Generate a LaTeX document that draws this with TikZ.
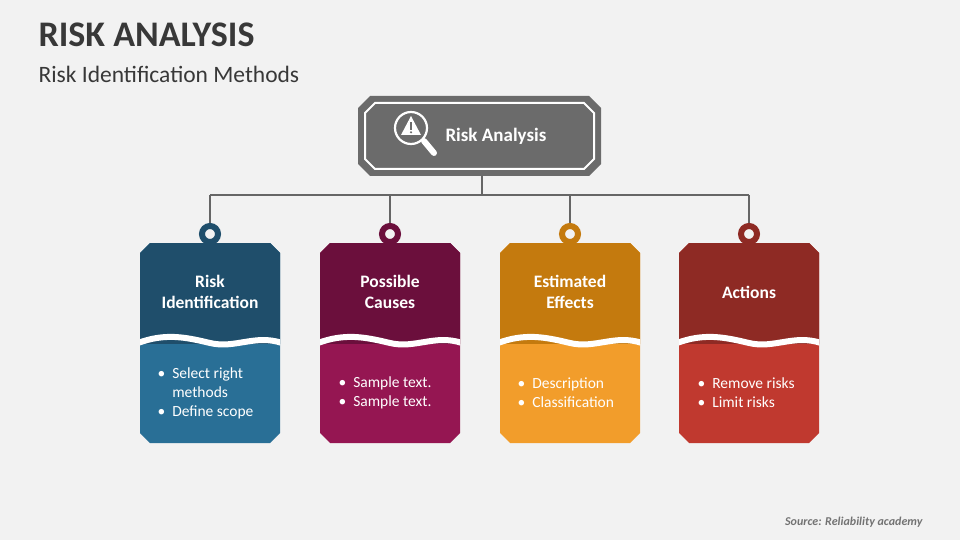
\documentclass[tikz,border=0pt]{standalone}
\usepackage{fontspec}
\setmainfont{Carlito}
\begin{document}
\begin{tikzpicture}[x=1pt,y=-1pt,
 ttl/.style={text=white,font=\bfseries\fontsize{17.5}{21}\selectfont,align=center},
 bul/.style={text=white,font=\fontsize{15.5}{19}\selectfont,align=left,anchor=west},
 conn/.style={draw=black!60,line width=2.2pt}]
\fill[black!5] (0,0) rectangle (960,540);
\useasboundingbox (0,0) rectangle (960,540);
\node[anchor=west,text=black!78,font=\bfseries\fontsize{36}{40}\selectfont] (title) at (35,35) {RISK ANALYSIS};
\node[anchor=west,text=black!78,font=\fontsize{23.5}{27}\selectfont] (sub) at (35,74) {Risk Identification Methods};
\node[anchor=east,text=black!55,font=\bfseries\itshape\fontsize{12}{14}\selectfont] (src) at (926,522) {Source: Reliability academy};
% top box
\fill[black!58] (370,96)--(589,96)--(601,108)--(601,164)--(589,176)--(370,176)--(358,164)--(358,108)--cycle;
\draw[white,line width=2pt] (375,103)--(584,103)--(594,113)--(594,159)--(584,169)--(375,169)--(365,159)--(365,113)--cycle;
\node[text=white,font=\bfseries\fontsize{19}{22}\selectfont,anchor=west] (top) at (442,136) {Risk Analysis};
\coordinate (tb) at (482,176);
% icon
\draw[white,line width=2.2pt] (411,128) circle (16);
\draw[white,line width=6pt,line cap=round] (424,141)--(434,153);
\fill[white] (411,116)--(421,135)--(401,135)--cycle;
\fill[black!58] (410,122) rectangle (412,130);
\fill[black!58] (411,132.3) circle (1.2);
\coordinate (hl) at (210,195);
\coordinate (hr) at (749,195);
\draw[conn] (tb)--(482,195);
\draw[conn] (hl)--(hr);
\foreach \cx/\up/\lo/\name in {210/1f4e6b/296f96/a,390/6b0f3c/951652/b,570/c47a0e/f29d2b/c,749/8e2a24/c0392f/d}{
 \definecolor{U}{HTML}{\up}\definecolor{L}{HTML}{\lo}
 \draw[conn] (\cx,195)--(\cx,226);
 \draw[U,line width=6pt] (\cx,234) circle (8);
 \path[fill=L] (\cx-60,243)--(\cx+60,243)--(\cx+70,253)--(\cx+70,433)--(\cx+60,443)--(\cx-60,443)--(\cx-70,433)--(\cx-70,253)--cycle;
 \begin{scope}
 \clip (\cx-60,243)--(\cx+60,243)--(\cx+70,253)--(\cx+70,433)--(\cx+60,443)--(\cx-60,443)--(\cx-70,433)--(\cx-70,253)--cycle;
 \fill[U] (\cx-75,230) rectangle (\cx+75,344);
 \draw[white,line width=6pt] (\cx-72,343) .. controls (\cx-45,333) and (\cx-25,337) .. (\cx,343) .. controls (\cx+25,349) and (\cx+45,334) .. (\cx+72,343);
 \end{scope}
}
\node[ttl] (ta) at (210,292) {Risk\\Identification};
\node[ttl] (tbx) at (390,292) {Possible\\Causes};
\node[ttl] (tc) at (570,292) {Estimated\\Effects};
\node[ttl] (td) at (749,292) {Actions};
\node[bul] (ba) at (154,393) {\textbullet\ \ Select right\\\phantom{\textbullet\ \ }methods\\\textbullet\ \ Define scope};
\node[bul] (bb) at (335,393) {\textbullet\ \ Sample text.\\\textbullet\ \ Sample text.};
\node[bul] (bc) at (514,393) {\textbullet\ \ Description\\\textbullet\ \ Classification};
\node[bul] (bd) at (694,393) {\textbullet\ \ Remove risks\\\textbullet\ \ Limit risks};
\end{tikzpicture}
\end{document}
